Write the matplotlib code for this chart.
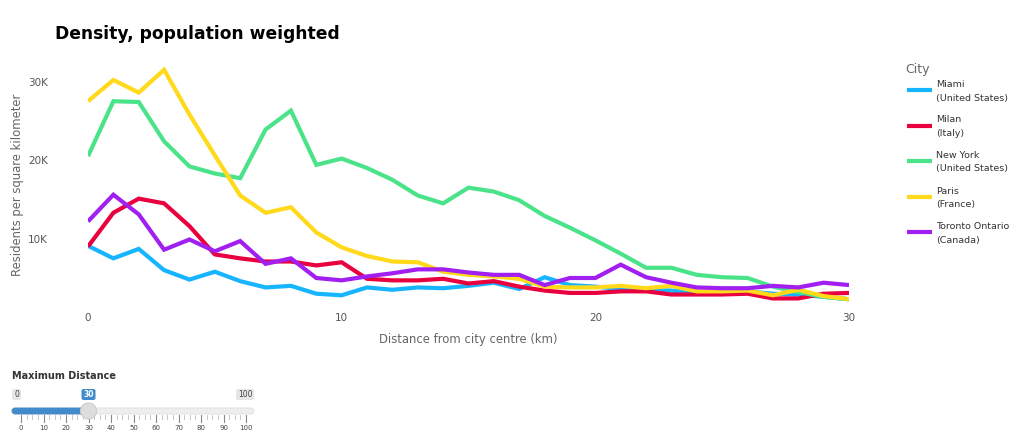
import matplotlib
matplotlib.use("Agg")

import matplotlib.pyplot as plt
from matplotlib.patches import FancyBboxPatch, Circle
from matplotlib.ticker import FuncFormatter

plt.rcParams['font.family'] = ['DejaVu Sans']

distance_km = list(range(31))

miami = [9.1, 7.5, 8.7, 6.0, 4.8, 5.8, 4.6, 3.8, 4.0, 3.0, 2.8,
         3.8, 3.5, 3.8, 3.7, 4.0, 4.4, 3.6, 5.1, 4.1, 3.9,
         3.6, 3.5, 3.4, 3.1, 3.1, 3.3, 3.0, 2.9, 2.6, 2.3]
milan = [9.0, 13.3, 15.1, 14.5, 11.6, 8.0, 7.5, 7.1, 7.1, 6.6, 7.0,
         4.9, 4.7, 4.7, 4.9, 4.3, 4.6, 3.9, 3.4, 3.1, 3.1,
         3.3, 3.3, 2.9, 2.9, 2.9, 3.0, 2.4, 2.4, 3.0, 3.1]
new_york = [20.5, 27.5, 27.4, 22.4, 19.2, 18.3, 17.7, 23.9, 26.3, 19.4, 20.2,
            19.0, 17.5, 15.5, 14.5, 16.5, 16.0, 14.9, 12.9, 11.4, 9.8,
            8.1, 6.3, 6.3, 5.4, 5.1, 5.0, 3.9, 3.2, 2.6, 2.3]
paris = [27.5, 30.2, 28.6, 31.5, 25.8, 20.6, 15.5, 13.3, 14.0, 10.8, 8.9,
         7.8, 7.1, 7.0, 5.8, 5.4, 5.2, 4.9, 3.9, 3.8, 3.8,
         4.0, 3.7, 4.0, 3.3, 3.3, 3.4, 2.8, 3.5, 2.7, 2.3]
toronto = [12.2, 15.6, 13.1, 8.6, 9.9, 8.4, 9.7, 6.8, 7.5, 5.0, 4.7,
           5.2, 5.6, 6.1, 6.1, 5.7, 5.4, 5.4, 4.1, 5.0, 5.0,
           6.7, 5.1, 4.4, 3.8, 3.7, 3.7, 4.0, 3.8, 4.4, 4.1]

city_names = ["Miami", "Milan", "New York", "Paris", "Toronto Ontario"]
countries = ["(United States)", "(Italy)", "(United States)", "(France)", "(Canada)"]
series = [miami, milan, new_york, paris, toronto]
colors = ["#17b4ff", "#e8003f", "#4be38a", "#ffd91a", "#a11ff0"]

slider_min, slider_value, slider_max = 0, 30, 100
slider_ticks = list(range(0, 101, 10))

fig = plt.figure(figsize=(10.24, 4.42), dpi=100)
ax = fig.add_axes([88 / 1024, 1 - 311 / 442, (849 - 88) / 1024, (311 - 58) / 442])

for vals, c in zip(series, colors):
    ax.plot(distance_km, [v * 1000 for v in vals], color=c, lw=3.0,
            solid_joinstyle='miter', solid_capstyle='butt')

ax.set_xlim(0, 30)
ax.set_ylim(800, 33000)
ax.set_xticks([0, 10, 20, 30])
ax.set_yticks([10000, 20000, 30000])
ax.yaxis.set_major_formatter(FuncFormatter(lambda v, p: f"{int(v / 1000)}K"))
for s in ax.spines.values():
    s.set_visible(False)
ax.tick_params(length=0, colors="#555555", labelsize=7.5)
ax.tick_params(axis='x', pad=1.7)
ax.tick_params(axis='y', pad=29)
ax.set_xlabel("Distance from city centre (km)", color="#666666", fontsize=8.4, labelpad=7)
ax.set_ylabel("Residents per square kilometer", color="#666666", fontsize=8.4, labelpad=3)

fig.text(55 / 1024, 1 - 34 / 442, "Density, population weighted",
         fontsize=12.3, fontweight='bold', va='center', ha='left', color='black')

# overlay in pixel coordinates for legend and slider
ui = fig.add_axes([0, 0, 1, 1], zorder=-1)
ui.set_xlim(0, 1024)
ui.set_ylim(442, 0)
ui.axis('off')

ui.text(905, 70, "City", fontsize=9, color="#666666", va='center', ha='left')
for i, (name, country, c) in enumerate(zip(city_names, countries, colors)):
    yc = 90 + i * 35.5
    ui.plot([907, 932], [yc, yc], color=c, lw=3.0, solid_capstyle='butt')
    ui.text(936, yc - 5.5, name, fontsize=6.8, color="#333333", va='center', ha='left')
    ui.text(936, yc + 8, country, fontsize=6.8, color="#333333", va='center', ha='left')

def sx(v):
    return 21 + (v - slider_min) / (slider_max - slider_min) * 225

ui.text(12, 376, "Maximum Distance", fontsize=7, fontweight='bold', va='center', color='#333333')
ui.add_patch(FancyBboxPatch((12, 408), 242, 6, boxstyle="round,pad=0,rounding_size=3",
                            fc="#eeeeee", ec="#dddddd", lw=0.6))
ui.add_patch(FancyBboxPatch((12, 408), sx(slider_value) - 12, 6, boxstyle="round,pad=0,rounding_size=3",
                            fc="#428bca", ec="#428bca", lw=0.6))
for base in range(0, 100, 10):
    for v in [2.5, 5, 7.5]:
        ui.plot([sx(base + v), sx(base + v)], [415, 418.5], color="#bbbbbb", lw=0.6)
for v in slider_ticks:
    ui.plot([sx(v), sx(v)], [415, 422], color="#888888", lw=0.8)
    ui.text(sx(v), 428, str(v), fontsize=5, ha='center', va='center', color='#444444')

ui.add_patch(Circle((sx(slider_value), 411), 8, fc="#dddddd", ec="#cccccc", lw=0.8, zorder=5))

for v, x0, w, fc, tc, bold in [(slider_min, 12, 9, "#e6e6e6", "#444444", False),
                               (slider_value, sx(slider_value) - 7, 14, "#428bca", "white", True),
                               (slider_max, 236, 18, "#e6e6e6", "#444444", False)]:
    ui.add_patch(FancyBboxPatch((x0, 389), w, 11, boxstyle="round,pad=0,rounding_size=2",
                                fc=fc, ec='none'))
    ui.text(x0 + w / 2, 394.5, str(v), fontsize=5.5, ha='center', va='center', color=tc,
            fontweight='bold' if bold else 'normal')

fig.savefig("out.png", dpi=100)
